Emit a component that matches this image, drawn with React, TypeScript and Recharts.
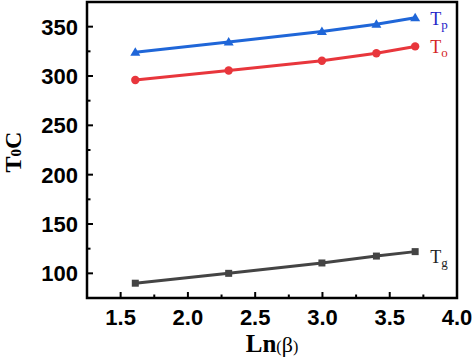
import React from "react";
import { LineChart, Line, XAxis, YAxis, ReferenceArea } from "recharts";

const lnBeta = [1.609, 2.303, 2.996, 3.401, 3.689];
const tp = [324, 334.5, 345, 352.5, 359];
const to = [296, 305.5, 315.5, 323, 330];
const tg = [90, 100, 110.5, 117.5, 122];

const xTicks = [1.25, 1.5, 1.75, 2.0, 2.25, 2.5, 2.75, 3.0, 3.25, 3.5, 3.75, 4.0];
const yTicks = [75, 100, 125, 150, 175, 200, 225, 250, 275, 300, 325, 350, 375];

const data = lnBeta.map((x, i) => ({ x, tp: tp[i], to: to[i], tg: tg[i] }));

const TICK_FONT = "'Liberation Sans', Arial, sans-serif";
const SERIF = "'Liberation Serif', 'Times New Roman', serif";

const YTick = (props: any) => {
  const { x, y, payload } = props;
  const v = payload.value;
  const major = v % 50 === 0;
  return (
    <g>
      <line x1={x} y1={y} x2={x + (major ? 6 : 3.5)} y2={y} stroke="#000" strokeWidth={2} />
      {major && (
        <text x={x - 9} y={y + 8} textAnchor="end" fontFamily={TICK_FONT} fontWeight="bold" fontSize={22} fill="#000">
          {v}
        </text>
      )}
    </g>
  );
};

const XTick = (props: any) => {
  const { x, y, payload } = props;
  const v = payload.value;
  const major = Math.abs(v * 2 - Math.round(v * 2)) < 1e-6;
  return (
    <g>
      <line x1={x} y1={y} x2={x} y2={y - (major ? 6 : 3.5)} stroke="#000" strokeWidth={2} />
      {major && (
        <text x={x} y={y + 27} textAnchor="middle" fontFamily={TICK_FONT} fontWeight="bold" fontSize={22} fill="#000">
          {v.toFixed(1)}
        </text>
      )}
    </g>
  );
};

const Triangle = (props: any) => {
  const { cx, cy, stroke } = props;
  return <path d={`M${cx},${cy - 5} L${cx + 5},${cy + 3.5} L${cx - 5},${cy + 3.5} Z`} fill={stroke} />;
};
const Circle = (props: any) => {
  const { cx, cy, stroke } = props;
  return <circle cx={cx} cy={cy} r={4.2} fill={stroke} />;
};
const Square = (props: any) => {
  const { cx, cy, stroke } = props;
  return <rect x={cx - 3.5} y={cy - 3.5} width={7} height={7} fill={stroke} />;
};

const makeLabel = (main: string, sub: string, color: string, dy: number) => (props: any) => {
  const { x, y, index } = props;
  if (index !== data.length - 1) return null;
  return (
    <text x={x + 15} y={y + dy} fontFamily={SERIF} fontSize={18} fill={color}>
      {main}
      <tspan fontSize={13} dy={4}>{sub}</tspan>
    </text>
  );
};

const YLabel = (props: any) => {
  const { viewBox } = props;
  const cx = viewBox.x + 21;
  const cy = viewBox.y + viewBox.height / 2 + 2;
  return (
    <text x={cx} y={cy} transform={`rotate(-90 ${cx} ${cy})`} textAnchor="middle" fontFamily={SERIF} fontWeight="bold" fontSize={24} fill="#000">
      T<tspan fontSize={15}>0</tspan>C
    </text>
  );
};

const XLabel = (props: any) => {
  const { viewBox } = props;
  const cx = viewBox.x + viewBox.width / 2;
  return (
    <text x={cx} y={352} textAnchor="middle" fontFamily={SERIF} fontWeight="bold" fontSize={25} fill="#000">
      Ln<tspan fontSize={16} fontWeight="normal">(</tspan>
      <tspan fontSize={22} fontWeight="normal">β</tspan>
      <tspan fontSize={16} fontWeight="normal">)</tspan>
    </text>
  );
};

export default function App() {
  return (
    <div style={{ position: "absolute", left: 0, top: 0, width: 474, height: 362, background: "#fff" }}>
      <LineChart width={474} height={362} data={data} margin={{ top: 2, right: 17, bottom: 0, left: 0 }}>
        <XAxis
          dataKey="x"
          type="number"
          domain={[1.25, 4]}
          ticks={xTicks}
          interval={0}
          allowDataOverflow
          height={64}
          tickLine={false}
          axisLine={false}
          tickSize={0}
          tickMargin={0}
          tick={<XTick />}
          label={<XLabel />}
        />
        <YAxis
          type="number"
          domain={[75, 375]}
          ticks={yTicks}
          interval={0}
          allowDataOverflow
          width={87}
          tickLine={false}
          axisLine={false}
          tickSize={0}
          tickMargin={0}
          tick={<YTick />}
          label={<YLabel />}
        />
        <ReferenceArea x1={1.25} x2={4} y1={75} y2={375} fill="none" stroke="#000" strokeWidth={2.5} ifOverflow="visible" />
        <Line dataKey="tp" stroke="#1f66d8" strokeWidth={3} isAnimationActive={false} dot={<Triangle />} label={makeLabel("T", "p", "#2424c8", 7)} />
        <Line dataKey="to" stroke="#e8363c" strokeWidth={3} isAnimationActive={false} dot={<Circle />} label={makeLabel("T", "o", "#d42424", 7)} />
        <Line dataKey="tg" stroke="#444444" strokeWidth={3} isAnimationActive={false} dot={<Square />} label={makeLabel("T", "g", "#222222", 11)} />
      </LineChart>
    </div>
  );
}
